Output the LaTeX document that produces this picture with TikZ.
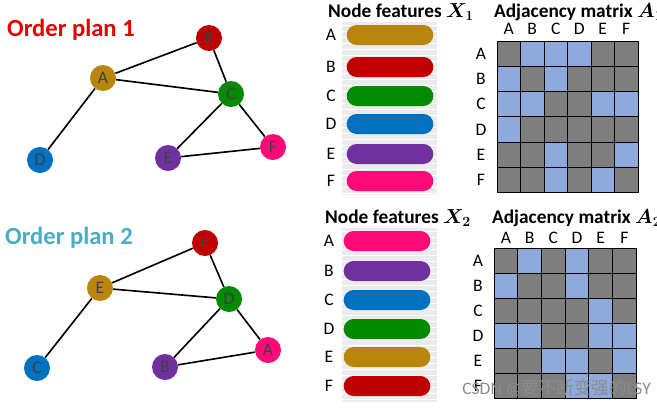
\documentclass[tikz,border=0pt]{standalone}
\usepackage{amsmath}
\usepackage{bm}
\usepackage{fontspec}
\setmainfont{Carlito}
\newfontfamily\cjk{Noto Sans CJK SC}
\begin{document}
\begin{tikzpicture}[x=0.03cm,y=-0.03cm,
  gn/.style={circle,minimum size=0.78cm,inner sep=0pt,font=\fontsize{15}{16}\selectfont,text=black!75},
  ed/.style={line width=1.4pt},
  bar/.style={rounded corners=0.3cm,minimum width=2.6cm,minimum height=0.6cm,inner sep=0pt},
  lab/.style={font=\fontsize{15}{16}\selectfont},
  ttl/.style={font=\bfseries\fontsize{16.5}{18}\selectfont},
]
\definecolor{cA}{HTML}{B8860B}\definecolor{cB}{HTML}{C00000}
\definecolor{cC}{HTML}{008A00}\definecolor{cD}{HTML}{0070C0}
\definecolor{cE}{HTML}{7030A0}\definecolor{cF}{HTML}{FF0A78}
\definecolor{blu}{HTML}{8EA9DB}\definecolor{gry}{HTML}{7F7F7F}
\definecolor{teal}{HTML}{4BACC6}
\useasboundingbox (0,0) rectangle (657,409);
% titles
\node[anchor=west,text=red!90!black,font=\bfseries\fontsize{21}{22}\selectfont] (t1) at (3,30) {Order plan 1};
\node[anchor=west,text=teal,font=\bfseries\fontsize{21}{22}\selectfont] (t2) at (1,238) {Order plan 2};
% graph 1
\node[gn,fill=cA] (a1) at (103,78) {A};
\node[gn,fill=cB] (b1) at (209,38) {B};
\node[gn,fill=cC] (c1) at (231,94) {C};
\node[gn,fill=cD] (d1) at (40,160) {D};
\node[gn,fill=cE] (e1) at (168,158) {E};
\node[gn,fill=cF] (f1) at (273,147) {F};
\draw[ed] (a1)--(b1) (a1)--(c1) (a1)--(d1) (b1)--(c1) (c1)--(e1) (c1)--(f1) (e1)--(f1);
% graph 2
\node[gn,fill=cA] (e2) at (100,288) {E};
\node[gn,fill=cB] (f2) at (205,243) {F};
\node[gn,fill=cC] (d2) at (229,299) {D};
\node[gn,fill=cD] (c2) at (37,368) {C};
\node[gn,fill=cE] (b2) at (165,367) {B};
\node[gn,fill=cF] (a2) at (268,350) {A};
\draw[ed] (e2)--(f2) (e2)--(d2) (e2)--(c2) (f2)--(d2) (d2)--(b2) (d2)--(a2) (b2)--(a2);
% feature bars
\node[ttl,anchor=west] (nf1) at (324,12) {Node features $\bm{X_1}$};
\node[ttl,anchor=west] (nf2) at (321,218) {Node features $\bm{X_2}$};
\fill[black!8] (342,22) rectangle (437,195);
\fill[black!8] (342,228) rectangle (437,402);
\foreach \y in {25,31,...,195} \draw[white,line width=0.6pt] (342,\y)--(437,\y);
\foreach \y in {231,237,...,402} \draw[white,line width=0.6pt] (342,\y)--(437,\y);
\foreach \l/\c/\y in {A/cA/35,B/cB/67,C/cC/96,D/cD/124,E/cE/154,F/cF/181}{
  \node[lab] (l1\l) at (331,\y) {\l};
  \node[bar,fill=\c] (x1\l) at (390,\y) {};
}
\foreach \l/\c/\y in {A/cF/241,B/cE/271,C/cD/300,D/cC/329,E/cA/357,F/cB/386}{
  \node[lab] (l2\l) at (329,\y) {\l};
  \node[bar,fill=\c] (x2\l) at (387,\y) {};
}
% matrices
\node[ttl,anchor=west] (am1) at (490,12) {Adjacency matrix $\bm{A_1}$};
\node[ttl,anchor=west] (am2) at (488,218) {Adjacency matrix $\bm{A_2}$};
\def\cw{23.5}\def\chh{25.3}
\foreach \r [count=\i from 0] in {{0,1,1,1,0,0},{1,0,1,0,0,0},{1,1,0,0,1,1},{1,0,0,0,0,0},{0,0,1,0,0,1},{0,0,1,0,1,0}}{
  \foreach \v [count=\j from 0] in \r {
    \ifnum\v=1 \def\cc{blu}\else\def\cc{gry}\fi
    \fill[\cc,draw=black,line width=0.8pt] ({497+\j*\cw},{41+\i*\chh}) rectangle ++(\cw,\chh);
  }}
\foreach \r [count=\i from 0] in {{0,1,0,1,0,0},{1,0,0,1,0,0},{0,0,0,0,1,0},{1,1,0,0,1,1},{0,0,1,1,0,1},{0,0,0,1,1,0}}{
  \foreach \v [count=\j from 0] in \r {
    \ifnum\v=1 \def\cc{blu}\else\def\cc{gry}\fi
    \fill[\cc,draw=black,line width=0.8pt] ({494+\j*23.7},{248+\i*25})  rectangle ++(23.7,25);
  }}
\foreach \l [count=\j from 0] in {A,B,C,D,E,F}{
  \node[lab] (h1\l) at ({508.75+\j*\cw},29) {\l};
  \node[lab] (r1\l) at (481,{53.6+\j*\chh}) {\l};
  \node[lab] (h2\l) at ({505.85+\j*23.7},238) {\l};
  \node[lab] (r2\l) at (478,{260.5+\j*25}) {\l};
}
\node[anchor=east,text=black!45,font=\fontsize{15}{16}\selectfont] (wm) at (655,388) {CSDN @{\cjk 要不断变强的}LSY};
\end{tikzpicture}
\end{document}
